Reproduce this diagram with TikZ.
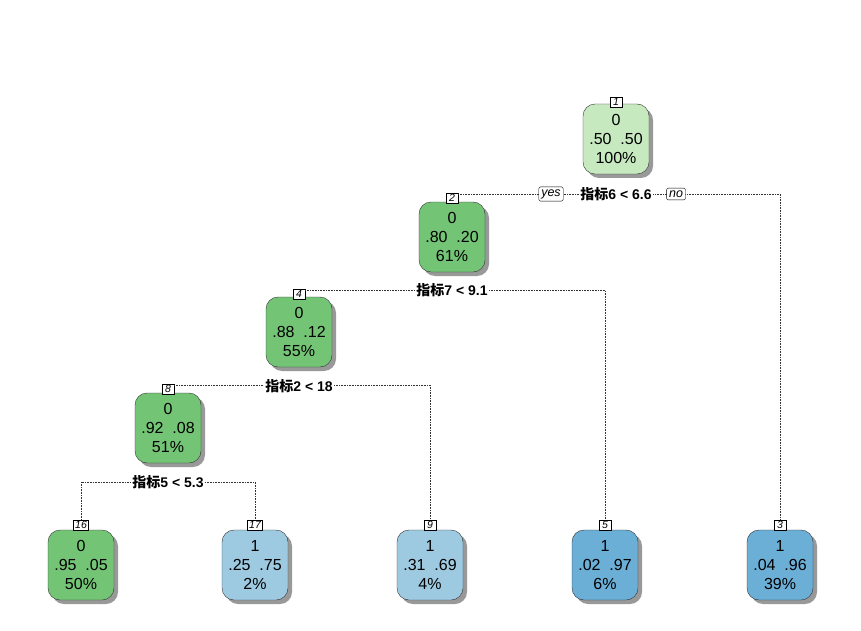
\documentclass[tikz,border=0pt]{standalone}
\usepackage{fontspec}
\setmainfont{Liberation Sans}
\newfontfamily\cjk{Noto Sans CJK SC}
\usetikzlibrary{shadows}
\definecolor{gA}{HTML}{C7E9C0}
\definecolor{gB}{HTML}{74C476}
\definecolor{bA}{HTML}{9ECAE1}
\definecolor{bB}{HTML}{6BAED6}
\tikzset{
 tnode/.style={draw=black!80, rounded corners=12pt, minimum width=66pt, minimum height=70pt, align=center, font=\fontsize{16}{19}\selectfont, inner sep=1pt, drop shadow={shadow xshift=4pt, shadow yshift=-4pt, fill=black!40, opacity=1}},
 idbox/.style={draw, fill=white, font=\itshape\fontsize{10.5}{11}\selectfont, inner sep=1.5pt, minimum width=12pt},
 split/.style={fill=white, font=\bfseries\fontsize{14}{16}\selectfont, inner sep=1pt},
 yn/.style={draw, rounded corners=2pt, fill=white, font=\itshape\fontsize{12.5}{13}\selectfont, inner sep=2.5pt},
 conn/.style={densely dotted, black!80, line width=0.6pt}
}
\newcommand{\zh}[1]{{\cjk\bfseries #1}}
\begin{document}
\begin{tikzpicture}[x=1pt,y=-1pt]
\fill[white] (0,0) rectangle (861,631);
\coordinate (c1) at (780,194);
\coordinate (c2) at (605,290);
\coordinate (c4) at (430,386);
\coordinate (c8l) at (81,482);
\coordinate (c8r) at (255,482);
\node[tnode, fill=gA] (n1) at (616,139) {0\\.50\ \ .50\\100\%};
\node[tnode, fill=gB] (n2) at (452,237) {0\\.80\ \ .20\\61\%};
\node[tnode, fill=gB] (n4) at (299,332) {0\\.88\ \ .12\\55\%};
\node[tnode, fill=gB] (n8) at (168,428) {0\\.92\ \ .08\\51\%};
\node[tnode, fill=gB] (n16) at (81,565) {0\\.95\ \ .05\\50\%};
\node[tnode, fill=bA] (n17) at (255,565) {1\\.25\ \ .75\\2\%};
\node[tnode, fill=bA] (n9) at (430,565) {1\\.31\ \ .69\\4\%};
\node[tnode, fill=bB] (n5) at (605,565) {1\\.02\ \ .97\\6\%};
\node[tnode, fill=bB] (n3) at (780,565) {1\\.04\ \ .96\\39\%};
\node[idbox] (i1) at (616,102) {1};
\node[idbox] (i2) at (452,198) {2};
\node[idbox] (i4) at (299,294) {4};
\node[idbox] (i8) at (168,389) {8};
\node[idbox] (i16) at (81,525) {16};
\node[idbox] (i17) at (255,525) {17};
\node[idbox] (i9) at (430,525) {9};
\node[idbox] (i5) at (605,525) {5};
\node[idbox] (i3) at (780,525) {3};
\draw[conn] (i2.east) ++(0,-4) coordinate (s2) -- (s2 -| c1) -- (i3.north);
\draw[conn] (i4.east) ++(0,-4) coordinate (s4) -- (s4 -| c2) -- (i5.north);
\draw[conn] (i8.east) ++(0,-4) coordinate (s8) -- (s8 -| c4) -- (i9.north);
\draw[conn] (i16.north) -- (c8l) -- (c8r) -- (i17.north);
\node[split] (s1) at (616,194) {\zh{指标}6 < 6.6};
\node[yn] (yes) at (551,194) {yes};
\node[yn] (no) at (676,194) {no};
\node[split] (sp2) at (452,290) {\zh{指标}7 < 9.1};
\node[split] (sp4) at (299,386) {\zh{指标}2 < 18};
\node[split] (sp8) at (168,482) {\zh{指标}5 < 5.3};
\end{tikzpicture}
\end{document}
